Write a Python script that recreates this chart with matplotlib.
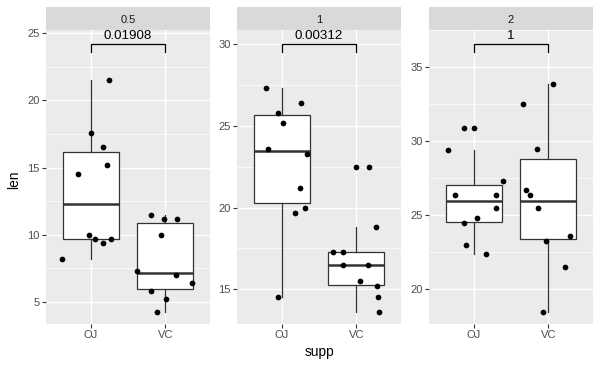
import numpy as np
import matplotlib
matplotlib.use("Agg")
import matplotlib.pyplot as plt
from matplotlib.ticker import MultipleLocator

plt.rcParams['font.family'] = ['Liberation Sans', 'DejaVu Sans']

doses = ["0.5", "1", "2"]
supps = ["OJ", "VC"]

len_oj = {
    "0.5": [15.2, 21.5, 17.6, 9.7, 14.5, 10.0, 8.2, 9.4, 16.5, 9.7],
    "1":   [19.7, 23.3, 23.6, 26.4, 20.0, 25.2, 25.8, 21.2, 14.5, 27.3],
    "2":   [25.5, 26.4, 22.4, 24.5, 24.8, 30.9, 26.4, 27.3, 29.4, 23.0],
}
len_vc = {
    "0.5": [4.2, 11.5, 7.3, 5.8, 6.4, 10.0, 11.2, 11.2, 5.2, 7.0],
    "1":   [16.5, 16.5, 15.2, 17.3, 22.5, 17.3, 13.6, 14.5, 18.8, 15.5],
    "2":   [23.6, 18.5, 33.9, 25.5, 26.4, 32.5, 26.7, 21.5, 23.3, 29.5],
}
# horizontal jitter (category units)
jit_oj = {
    "0.5": [0.215, 0.24, 0.0, 0.054, -0.175, -0.027, -0.39, 0.16, 0.166, 0.27],
    "1":   [0.175, 0.336, -0.19, 0.256, 0.31, 0.013, -0.054, 0.242, -0.054, -0.21],
    "2":   [0.293, 0.293, 0.16, -0.133, 0.04, -0.133, -0.253, 0.387, -0.347, -0.107],
}
jit_vc = {
    "0.5": [-0.11, -0.19, -0.38, -0.19, 0.36, -0.058, -0.018, 0.157, 0.009, 0.143],
    "1":   [-0.18, 0.16, 0.28, -0.31, 0.17, -0.18, 0.305, 0.29, 0.27, 0.05],
    "2":   [0.293, -0.067, 0.067, -0.133, -0.24, -0.333, -0.293, 0.227, -0.027, -0.147],
}
p_values = ["0.01908", "0.00312", "1"]
bracket_y = [24.22, 30.0, 36.55]
bracket_tip = [0.64, 0.49, 0.54]
y_limits = [(3.34, 25.25), (12.87, 30.88), (17.66, 37.52)]
y_major = [5, 5, 5]

W, H = 600, 370
fig = plt.figure(figsize=(6, 3.7), dpi=100)
fig.patch.set_facecolor("white")

lefts = [46, 237, 429]
pw = 164
ptop, pbot = 30, 324
strip_top = 7

for i, d in enumerate(doses):
    L = lefts[i]
    ax = fig.add_axes([L / W, (H - pbot) / H, pw / W, (pbot - ptop) / H])
    ax.set_facecolor("#EBEBEB")
    for s in ax.spines.values():
        s.set_visible(False)

    data = [len_oj[d], len_vc[d]]
    ax.boxplot(data, positions=[1, 2], widths=0.75, patch_artist=True,
               boxprops=dict(facecolor="white", edgecolor="#333333", linewidth=0.9),
               medianprops=dict(color="#333333", linewidth=1.8),
               whiskerprops=dict(color="#333333", linewidth=0.9),
               capprops=dict(linewidth=0),
               flierprops=dict(marker="o", markerfacecolor="black", markeredgecolor="black",
                               markeredgewidth=0, markersize=4.1, linestyle="none"),
               zorder=2)
    for k, (vals, jit) in enumerate([(len_oj[d], jit_oj[d]), (len_vc[d], jit_vc[d])]):
        xs = np.array(jit) + (k + 1)
        ax.scatter(xs, vals, s=17, color="black", zorder=4, linewidths=0)

    ax.set_xlim(0.4, 2.6)
    ax.set_ylim(*y_limits[i])
    ax.set_xticks([1, 2])
    ax.set_xticklabels(supps)
    ax.yaxis.set_major_locator(MultipleLocator(y_major[i]))
    ax.yaxis.set_minor_locator(MultipleLocator(y_major[i] / 2))
    ax.grid(which="major", color="white", linewidth=1.0)
    ax.grid(which="minor", axis="y", color="white", linewidth=0.5)
    ax.set_axisbelow(True)
    ax.tick_params(which="major", length=2.9, width=0.8, color="#333333",
                   labelcolor="#4D4D4D", labelsize=8.0, pad=1.5)
    ax.tick_params(which="minor", length=0)

    yb = bracket_y[i]
    tip = bracket_tip[i]
    ax.plot([1, 1, 2, 2], [yb - tip, yb, yb, yb - tip], color="black", lw=0.9,
            zorder=5, clip_on=False)
    ax.annotate(p_values[i], xy=(1.5, yb), xytext=(0, 1.5), textcoords="offset points",
                ha="center", va="bottom", fontsize=9.6, color="black", zorder=6,
                annotation_clip=False)

    sax = fig.add_axes([L / W, (H - ptop) / H, pw / W, (ptop - strip_top) / H])
    sax.set_facecolor("#D9D9D9")
    sax.set_xticks([])
    sax.set_yticks([])
    for s in sax.spines.values():
        s.set_visible(False)
    sax.text(0.5, 0.45, d, ha="center", va="center", fontsize=8.0, color="#1A1A1A",
             transform=sax.transAxes)

fig.text((lefts[0] + lefts[2] + pw) / 2 / W, 1 - 352 / H, "supp", ha="center", va="center",
         fontsize=9.9, color="black")
fig.text(14 / W, 1 - 180 / H, "len", ha="center", va="center", rotation=90,
         fontsize=9.9, color="black")

fig.savefig("out.png", dpi=100)
